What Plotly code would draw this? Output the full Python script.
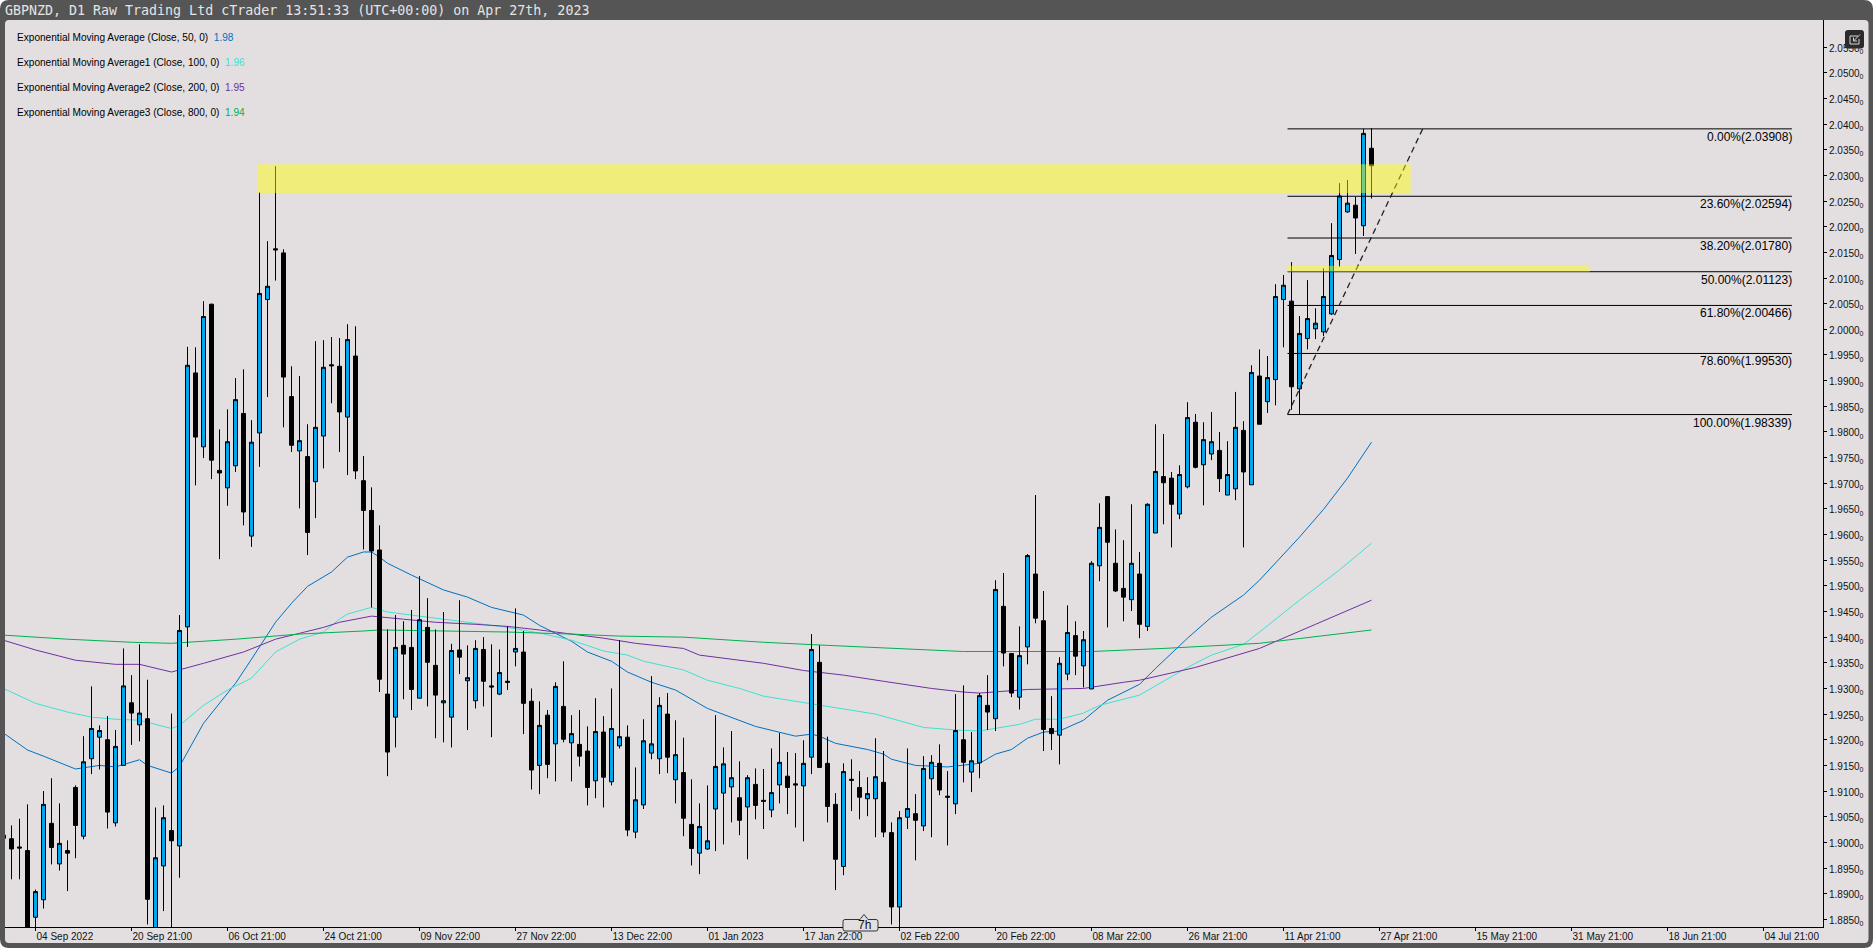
import plotly.graph_objects as go

WIDTH, HEIGHT = 1874, 949
MARGIN = dict(l=5, r=51, t=20, b=22)

opens = [
    1.9008, 1.9007, 1.8991, 1.8984, 1.8854, 1.8888, 1.9037, 1.8958, 1.8984, 1.9107,
    1.9012, 1.9163, 1.9205, 1.9200, 1.9038, 1.9150, 1.9272, 1.9229, 1.9241, 1.8800,
    1.8954, 1.9023, 1.8993, 1.9420, 1.9915, 1.9771, 2.0049, 1.9725, 1.9691, 1.9734,
    1.9836, 1.9597, 1.9798, 2.0058, 2.0157, 2.0149, 1.9869, 1.9763, 1.9752, 1.9703,
    1.9792, 1.9931, 1.9928, 1.9829, 1.9948, 1.9705, 1.9647, 1.9570, 1.9289, 1.9244,
    1.9384, 1.9380, 1.9281, 1.9419, 1.9345, 1.9272, 1.9244, 1.9375, 1.9315, 1.9276,
    1.9376, 1.9305, 1.9289, 1.9314, 1.9371, 1.9371, 1.9275, 1.9150, 1.9248, 1.9192,
    1.9265, 1.9194, 1.9191, 1.9178, 1.9120, 1.9215, 1.9118, 1.9188, 1.9205, 1.9020,
    1.9073, 1.9174, 1.9163, 1.9250, 1.9122, 1.9136, 1.9035, 1.8979, 1.8987, 1.9065,
    1.9096, 1.9108, 1.9087, 1.9069, 1.9113, 1.9082, 1.9063, 1.9112, 1.9129, 1.9114,
    1.9110, 1.9166, 1.9351, 1.9154, 1.9074, 1.8953, 1.9123, 1.9107, 1.9085, 1.9085,
    1.9117, 1.9019, 1.8874, 1.9049, 1.9056, 1.9032, 1.9124, 1.9154, 1.9090, 1.9075,
    1.9200, 1.9137, 1.9155, 1.9267, 1.9241, 1.9460, 1.9368, 1.9283, 1.9381, 1.9523,
    1.9432, 1.9222, 1.9209, 1.9328, 1.9403, 1.9344, 1.9299, 1.9539, 1.9674, 1.9544,
    1.9495, 1.9473, 1.9523, 1.9421, 1.9603, 1.9713, 1.9710, 1.9640, 1.9693, 1.9819,
    1.9736, 1.9757, 1.9764, 1.9677, 1.9689, 1.9803, 1.9697, 1.9909, 1.9859, 1.9902,
    2.0058, 2.0055, 1.9884, 1.9982, 2.0001, 1.9995, 2.0030, 2.0136, 2.0229, 2.0242,
    2.0202, 2.0353,
]
highs = [
    1.9033, 1.9033, 1.9046, 1.9074, 1.8908, 1.9100, 1.9125, 1.9076, 1.9004, 1.9111,
    1.9207, 1.9304, 1.9228, 1.9246, 1.9219, 1.9378, 1.9326, 1.9386, 1.9317, 1.9068,
    1.9072, 1.9251, 1.9443, 1.9966, 1.9965, 2.0055, 2.0050, 1.9805, 1.9844, 1.9905,
    1.9922, 1.9823, 2.0267, 2.0172, 2.0318, 2.0156, 1.9928, 1.9909, 1.9815, 1.9977,
    1.9979, 1.9985, 1.9983, 2.0010, 2.0006, 1.9753, 1.9692, 1.9618, 1.9415, 1.9443,
    1.9431, 1.9453, 1.9519, 1.9476, 1.9415, 1.9449, 1.9387, 1.9472, 1.9384, 1.9394,
    1.9400, 1.9386, 1.9376, 1.9421, 1.9456, 1.9412, 1.9300, 1.9275, 1.9258, 1.9312,
    1.9353, 1.9248, 1.9258, 1.9226, 1.9281, 1.9246, 1.9300, 1.9394, 1.9228, 1.9146,
    1.9240, 1.9324, 1.9283, 1.9291, 1.9238, 1.9204, 1.9123, 1.9076, 1.9111, 1.9248,
    1.9185, 1.9217, 1.9158, 1.9131, 1.9144, 1.9143, 1.9183, 1.9213, 1.9176, 1.9174,
    1.9199, 1.9406, 1.9384, 1.9206, 1.9096, 1.9154, 1.9162, 1.9139, 1.9127, 1.9203,
    1.9178, 1.9039, 1.9061, 1.9183, 1.9094, 1.9168, 1.9170, 1.9191, 1.9139, 1.9289,
    1.9306, 1.9215, 1.9291, 1.9326, 1.9511, 1.9525, 1.9369, 1.9421, 1.9562, 1.9677,
    1.9490, 1.9285, 1.9361, 1.9462, 1.9431, 1.9412, 1.9548, 1.9661, 1.9675, 1.9610,
    1.9589, 1.9659, 1.9566, 1.9661, 1.9815, 1.9796, 1.9722, 1.9735, 1.9858, 1.9835,
    1.9819, 1.9839, 1.9800, 1.9782, 1.9878, 1.9821, 1.9930, 1.9961, 1.9948, 2.0088,
    2.0106, 2.0131, 2.0026, 2.0096, 2.0041, 2.0119, 2.0207, 2.0285, 2.0291, 2.0258,
    2.03908, 2.0392,
]
lows = [
    1.8994, 1.8928, 1.8928, 1.8780, 1.8830, 1.8871, 1.8957, 1.8945, 1.8905, 1.8969,
    1.9006, 1.9133, 1.9142, 1.9027, 1.9031, 1.9150, 1.9190, 1.9197, 1.8840, 1.8790,
    1.8866, 1.8825, 1.8931, 1.9381, 1.9696, 1.9749, 1.9708, 1.9552, 1.9656, 1.9722,
    1.9618, 1.9576, 1.9732, 1.9868, 2.0095, 1.9809, 1.9761, 1.9651, 1.9560, 1.9632,
    1.9729, 1.9856, 1.9761, 1.9716, 1.9708, 1.9571, 1.9458, 1.9293, 1.9129, 1.9185,
    1.9279, 1.9258, 1.9281, 1.9265, 1.9203, 1.9195, 1.9185, 1.9328, 1.9219, 1.9261,
    1.9265, 1.9205, 1.9287, 1.9297, 1.9343, 1.9211, 1.9103, 1.9094, 1.9125, 1.9119,
    1.9195, 1.9119, 1.9148, 1.9072, 1.9086, 1.9068, 1.9111, 1.9183, 1.9012, 1.9008,
    1.9065, 1.9162, 1.9133, 1.9135, 1.9076, 1.9012, 1.8955, 1.8938, 1.8986, 1.8983,
    1.8996, 1.9039, 1.9014, 1.8967, 1.9045, 1.9026, 1.9049, 1.9076, 1.9055, 1.9029,
    1.9002, 1.9133, 1.9146, 1.9039, 1.8907, 1.8936, 1.9061, 1.9045, 1.9051, 1.9010,
    1.9010, 1.8840, 1.8830, 1.9026, 1.8965, 1.9022, 1.9010, 1.9092, 1.8994, 1.9055,
    1.9117, 1.9098, 1.9125, 1.9219, 1.9217, 1.9343, 1.9283, 1.9259, 1.9347, 1.9427,
    1.9178, 1.9180, 1.9152, 1.9316, 1.9326, 1.9302, 1.9299, 1.9509, 1.9419, 1.9488,
    1.9431, 1.9451, 1.9398, 1.9412, 1.9603, 1.9620, 1.9575, 1.9630, 1.9690, 1.9729,
    1.9657, 1.9745, 1.9683, 1.9677, 1.9667, 1.9575, 1.9697, 1.9815, 1.9837, 1.9852,
    1.9965, 1.9843, 1.98339, 1.9961, 1.9981, 1.9987, 2.0028, 2.0122, 2.0227, 2.0147,
    2.0182, 2.0255,
]
closes = [
    1.9014, 1.8987, 1.8989, 1.8800, 1.8904, 1.9074, 1.8990, 1.8998, 1.8979, 1.9033,
    1.9157, 1.9222, 1.9218, 1.9059, 1.9187, 1.9305, 1.9252, 1.9252, 1.8889, 1.8970,
    1.9048, 1.9003, 1.9413, 1.9930, 1.9790, 2.0025, 1.9745, 1.9720, 1.9781, 1.9863,
    1.9644, 1.9780, 2.0070, 2.0084, 2.0155, 1.9907, 1.9774, 1.9783, 1.9604, 1.9809,
    1.9926, 1.9929, 1.9839, 1.9980, 1.9724, 1.9647, 1.9568, 1.9318, 1.9176, 1.9380,
    1.9367, 1.9298, 1.9434, 1.9351, 1.9287, 1.9276, 1.9374, 1.9361, 1.9321, 1.9378,
    1.9314, 1.9303, 1.9331, 1.9312, 1.9378, 1.9271, 1.9141, 1.9228, 1.9152, 1.9304,
    1.9201, 1.9212, 1.9168, 1.9107, 1.9216, 1.9127, 1.9222, 1.9206, 1.9024, 1.9083,
    1.9198, 1.9192, 1.9267, 1.9166, 1.9171, 1.9047, 1.8988, 1.9031, 1.9003, 1.9148,
    1.9153, 1.9126, 1.9043, 1.9126, 1.9072, 1.9080, 1.9097, 1.9156, 1.9107, 1.9112,
    1.9154, 1.9376, 1.9146, 1.9070, 1.8967, 1.9138, 1.9121, 1.9088, 1.9095, 1.9128,
    1.9020, 1.8874, 1.9048, 1.9066, 1.9043, 1.9144, 1.9156, 1.9102, 1.9088, 1.9218,
    1.9156, 1.9159, 1.9286, 1.9254, 1.9493, 1.9369, 1.9291, 1.9364, 1.9559, 1.9437,
    1.9220, 1.9212, 1.9349, 1.9409, 1.9363, 1.9395, 1.9544, 1.9614, 1.9585, 1.9490,
    1.9478, 1.9544, 1.9425, 1.9659, 1.9723, 1.9701, 1.9659, 1.9717, 1.9828, 1.9731,
    1.9785, 1.9781, 1.9709, 1.9717, 1.9809, 1.9722, 1.9916, 1.9815, 1.9906, 2.0064,
    2.0086, 1.9888, 1.9992, 2.0021, 2.0012, 2.0064, 2.0144, 2.0260, 2.0246, 2.0217,
    2.0382, 2.0319,
]
bars = list(range(len(opens)))

# EMAs at the bars where they bend
ema50_bars = [0, 2, 3, 5, 9, 12, 14, 17, 18, 21, 22, 25, 29, 31, 34, 36, 38, 41, 43, 45, 46, 47, 48, 51, 55, 58, 61, 65,
              67, 71, 73, 76, 78, 81, 84, 88, 91, 94, 99, 101, 102, 104, 108, 110, 111, 114, 118, 122, 124, 126, 128,
              130, 132, 135, 138, 142, 144, 148, 151, 155, 157, 162, 165, 168, 171]
ema50 = [1.9213, 1.9190, 1.9180, 1.9168, 1.9143, 1.9150, 1.9147, 1.9161, 1.9150, 1.9135, 1.9148, 1.9232, 1.9310,
         1.9357, 1.9429, 1.9466, 1.9499, 1.9527, 1.9556, 1.9566, 1.9566, 1.9556, 1.9544, 1.9521, 1.9492, 1.9478,
         1.9458, 1.9443, 1.9423, 1.9392, 1.9371, 1.9353, 1.9332, 1.9312, 1.9297, 1.9261, 1.9244, 1.9226, 1.9207,
         1.9211, 1.9207, 1.9193, 1.9181, 1.9172, 1.9162, 1.9150, 1.9147, 1.9154, 1.9172, 1.9181, 1.9203, 1.9215,
         1.9217, 1.9238, 1.9277, 1.9308, 1.9339, 1.9398, 1.9439, 1.9482, 1.9511, 1.9595, 1.9649, 1.9710, 1.9780]
ema100_bars = [0, 4, 8, 11, 14, 17, 21, 22, 25, 28, 31, 34, 37, 40, 42, 43, 46, 48, 51, 55, 60, 63, 67, 71, 75, 78, 80,
               85, 88, 92, 95, 100, 104, 109, 115, 119, 122, 124, 127, 129, 132, 135, 137, 142, 148, 151, 155, 157,
               162, 167, 171]
ema100 = [1.9300, 1.9271, 1.9254, 1.9244, 1.9240, 1.9238, 1.9222, 1.9228, 1.9267, 1.9297, 1.9320, 1.9371, 1.9396,
          1.9410, 1.9435, 1.9445, 1.9458, 1.9449, 1.9443, 1.9435, 1.9425, 1.9419, 1.9408, 1.9394, 1.9373, 1.9365,
          1.9353, 1.9336, 1.9316, 1.9300, 1.9285, 1.9273, 1.9263, 1.9250, 1.9224, 1.9219, 1.9217, 1.9222, 1.9230,
          1.9240, 1.9240, 1.9252, 1.9267, 1.9287, 1.9341, 1.9365, 1.9386, 1.9410, 1.9472, 1.9531, 1.9583]
ema200_bars = [0, 4, 9, 14, 17, 21, 25, 30, 34, 40, 42, 46, 50, 54, 59, 63, 67, 70, 75, 79, 85, 87, 95, 100, 105, 110,
               116, 120, 122, 128, 135, 140, 142, 149, 153, 157, 164, 171]
ema200 = [1.9394, 1.9375, 1.9355, 1.9347, 1.9347, 1.9332, 1.9349, 1.9371, 1.9396, 1.9419, 1.9429, 1.9441, 1.9435,
          1.9429, 1.9425, 1.9421, 1.9414, 1.9408, 1.9398, 1.9388, 1.9378, 1.9365, 1.9349, 1.9335, 1.9326, 1.9314,
          1.9300, 1.9293, 1.9291, 1.9298, 1.9300, 1.9312, 1.9316, 1.9341, 1.9359, 1.9378, 1.9425, 1.9472]
ema800_bars = [0, 8, 16, 21, 29, 37, 45, 47, 55, 63, 71, 77, 85, 95, 103, 111, 120, 136, 145, 157, 171]
ema800 = [1.9404, 1.9396, 1.9390, 1.9388, 1.9396, 1.9406, 1.9412, 1.9414, 1.9412, 1.9410, 1.9406, 1.9402, 1.9400,
          1.9390, 1.9384, 1.9378, 1.9372, 1.9372, 1.9378, 1.9388, 1.9414]

ema_names = [
    "Exponential Moving Average (Close, 50, 0)",
    "Exponential Moving Average1 (Close, 100, 0)",
    "Exponential Moving Average2 (Close, 200, 0)",
    "Exponential Moving Average3 (Close, 800, 0)",
]
ema_latest = ["1.98", "1.96", "1.95", "1.94"]
ema_colors = ["#0070C0", "#40E0D0", "#7030A0", "#00B050"]

fib_labels = ["0.00%", "23.60%", "38.20%", "50.00%", "61.80%", "78.60%", "100.00%"]
fib_levels = [2.03908, 2.02594, 2.01780, 2.01123, 2.00466, 1.99530, 1.98339]

x_tick_bars = [4, 16, 28, 40, 52, 64, 76, 88, 100, 112, 124, 136, 148, 160, 172, 184, 196, 208, 220]
x_tick_labels = [
    "04 Sep 2022", "20 Sep 21:00", "06 Oct 21:00", "24 Oct 21:00", "09 Nov 22:00", "27 Nov 22:00", "13 Dec 22:00",
    "01 Jan 2023", "17 Jan 22:00", "02 Feb 22:00", "20 Feb 22:00", "08 Mar 22:00", "26 Mar 21:00", "11 Apr 21:00",
    "27 Apr 21:00", "15 May 21:00", "31 May 21:00", "18 Jun 21:00", "04 Jul 21:00",
]
y_ticks = [
    1.885, 1.890, 1.895, 1.900, 1.905, 1.910, 1.915, 1.920, 1.925, 1.930, 1.935, 1.940, 1.945, 1.950, 1.955, 1.960,
    1.965, 1.970, 1.975, 1.980, 1.985, 1.990, 1.995, 2.000, 2.005, 2.010, 2.015, 2.020, 2.025, 2.030, 2.035, 2.040,
    2.045, 2.050, 2.055,
]

X_RANGE = [0.1875, 227.4375]
Y_RANGE = [1.8835, 2.0603]
FIB_START, FIB_END = 160.5, 223.55

BG = "#E3DFE1"
FRAME = "#555555"
TEXT_FONT = "Liberation Sans"


def px(x):
    return (x - MARGIN["l"]) / (WIDTH - MARGIN["l"] - MARGIN["r"])


def py(y):
    return (HEIGHT - MARGIN["b"] - y) / (HEIGHT - MARGIN["t"] - MARGIN["b"])


def rounded_box(x0, y0, x1, y1, r):
    return (
        f"M {px(x0 + r)} {py(y0)} L {px(x1 - r)} {py(y0)} Q {px(x1)} {py(y0)} {px(x1)} {py(y0 + r)} "
        f"L {px(x1)} {py(y1 - r)} Q {px(x1)} {py(y1)} {px(x1 - r)} {py(y1)} "
        f"L {px(x0 + r)} {py(y1)} Q {px(x0)} {py(y1)} {px(x0)} {py(y1 - r)} "
        f"L {px(x0)} {py(y0 + r)} Q {px(x0)} {py(y0)} {px(x0 + r)} {py(y0)} Z"
    )


def chrome_shape(path, fill, line_color=None, line_width=0, layer="above"):
    return dict(
        type="path", xref="paper", yref="paper", path=path, fillcolor=fill, layer=layer,
        line=dict(color=line_color or fill, width=line_width),
    )


fig = go.Figure()

# EMAs stay on the base axes so the candles (overlay axes) paint over them
for name, ema_x, ema_y, color in zip(
    ema_names,
    [ema50_bars, ema100_bars, ema200_bars, ema800_bars],
    [ema50, ema100, ema200, ema800],
    ema_colors,
):
    fig.add_trace(go.Scatter(x=ema_x, y=ema_y, mode="lines", name=name, line=dict(color=color, width=1)))

fig.add_trace(
    go.Candlestick(
        x=bars, open=opens, high=highs, low=lows, close=closes, xaxis="x2", yaxis="y2", name="GBPNZD", whiskerwidth=0,
        increasing=dict(line=dict(color="#000000", width=1), fillcolor="#00A7EC"),
        decreasing=dict(line=dict(color="#000000", width=1), fillcolor="#000000"),
    )
)

shapes = [
    chrome_shape(rounded_box(0, 0, 1873, 948, 9), FRAME, layer="below"),
    chrome_shape(rounded_box(5, 20, 1868.5, 943, 4), BG, layer="below"),
]

for level in fib_levels:
    shapes.append(
        dict(type="line", x0=FIB_START, x1=FIB_END, y0=level, y1=level, line=dict(color="#000000", width=1))
    )
shapes.append(
    dict(type="line", x0=FIB_START, x1=177.4, y0=fib_levels[-1], y1=fib_levels[0],
         line=dict(color="#222222", width=1.3, dash="6px,4px"))
)
shapes.append(
    dict(type="rect", x0=31.75, x1=175.9, y0=2.0266, y1=2.0322, fillcolor="rgba(255,255,0,0.45)", line=dict(width=0))
)
shapes.append(
    dict(type="rect", x0=FIB_START, x1=198.3, y0=2.01123, y1=2.0124, fillcolor="rgba(255,255,0,0.45)",
         line=dict(width=0))
)

# expand button, top right corner
shapes.append(chrome_shape(rounded_box(1845, 30, 1864, 48.5, 3), "#2B2B2B"))
icon_stroke = (
    f"M {px(1858)} {py(36)} L {px(1850)} {py(36)} L {px(1850)} {py(44)} L {px(1859)} {py(44)} L {px(1859)} {py(39)} "
    f"M {px(1860)} {py(34.5)} L {px(1853.5)} {py(41)} M {px(1853.5)} {py(37.5)} L {px(1853.5)} {py(41)} "
    f"L {px(1857)} {py(41)}"
)
shapes.append(dict(type="path", xref="paper", yref="paper", path=icon_stroke, line=dict(color="#D8D8D8", width=1)))

# time-to-close tag on the time axis
tag = (
    f"M {px(845)} {py(919.5)} L {px(860)} {py(919.5)} L {px(864)} {py(914.5)} L {px(868)} {py(919.5)} "
    f"L {px(876)} {py(919.5)} Q {px(878)} {py(919.5)} {px(878)} {py(921.5)} L {px(878)} {py(929)} "
    f"Q {px(878)} {py(931)} {px(876)} {py(931)} L {px(845)} {py(931)} Q {px(843)} {py(931)} {px(843)} {py(929)} "
    f"L {px(843)} {py(921.5)} Q {px(843)} {py(919.5)} {px(845)} {py(919.5)} Z"
)
shapes.append(chrome_shape(tag, BG, "#333333", 1))

annotations = []
for i, (name, latest, color) in enumerate(zip(ema_names, ema_latest, ema_colors)):
    annotations.append(
        dict(
            xref="paper", yref="paper", x=px(14.5), y=py(37.5 + i * 25), xanchor="left", yanchor="middle",
            text=f"{name}&nbsp; <span style='color:{color}'>{latest}</span>", showarrow=False,
            font=dict(family=TEXT_FONT, size=10.1, color="#000000"),
        )
    )
for label, level in zip(fib_labels, fib_levels):
    annotations.append(
        dict(
            x=FIB_END, y=level, xanchor="right", yanchor="top", text=f"{label}({level:.5f})", showarrow=False,
            font=dict(family=TEXT_FONT, size=12, color="#000000"), xshift=2, yshift=1,
        )
    )
annotations.append(
    dict(xref="paper", yref="paper", x=px(864), y=py(925), text="7h", showarrow=False, xanchor="center",
         yanchor="middle", font=dict(family=TEXT_FONT, size=12, color="#111111"))
)

axis_font = dict(family=TEXT_FONT, size=10, color="#111111")
fig.update_layout(
    width=WIDTH,
    height=HEIGHT,
    margin=MARGIN,
    paper_bgcolor="#FFFFFF",
    plot_bgcolor="rgba(0,0,0,0)",
    showlegend=False,
    boxgap=0.5,
    boxgroupgap=0,
    title=dict(
        text="GBPNZD, D1 Raw Trading Ltd cTrader 13:51:33 (UTC+00:00) on Apr 27th, 2023",
        x=5 / WIDTH, y=1 - 10 / HEIGHT, xanchor="left", yanchor="middle",
        font=dict(family="DejaVu Sans Mono", size=13.3, color="#E4E4E4"),
    ),
    xaxis=dict(
        range=X_RANGE, tickmode="array", tickvals=x_tick_bars, ticktext=x_tick_labels, showgrid=False, zeroline=False,
        showline=True, linecolor="#000000", linewidth=1, ticks="outside", ticklen=3, tickcolor="#000000",
        ticklabelposition="outside right", tickfont=axis_font, tickangle=0, rangeslider=dict(visible=False),
    ),
    yaxis=dict(
        range=Y_RANGE, side="right", tickmode="array", tickvals=y_ticks,
        ticktext=[f"{v:.4f}<sub>0</sub>" for v in y_ticks], showgrid=False, zeroline=False, showline=True,
        linecolor="#000000", linewidth=1, ticks="outside", ticklen=3, tickcolor="#000000", tickfont=axis_font,
        ticklabelshift=1,
    ),
    xaxis2=dict(range=X_RANGE, overlaying="x", visible=False, rangeslider=dict(visible=False)),
    yaxis2=dict(range=Y_RANGE, overlaying="y", visible=False),
    shapes=shapes,
    annotations=annotations,
)

fig.write_html(
    "out.html",
    config={"displayModeBar": False},
    post_script="document.body.style.margin='0';",
)
